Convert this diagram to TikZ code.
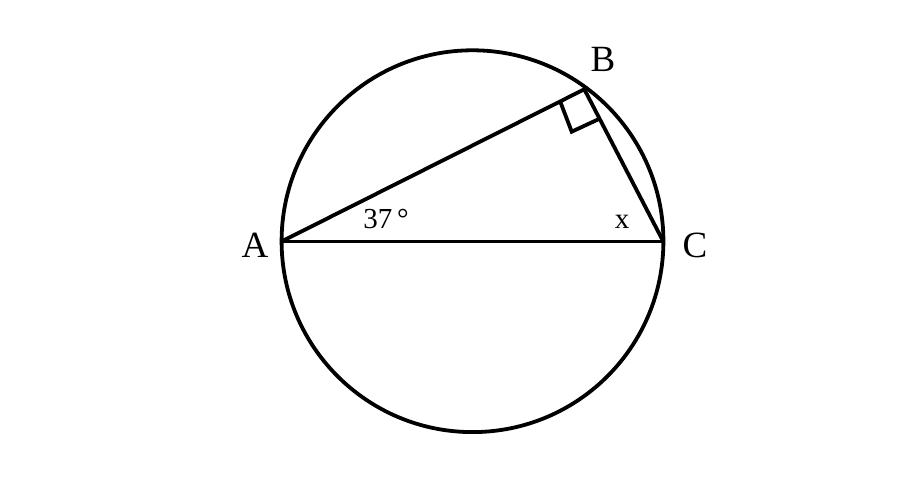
\documentclass[tikz,border=0pt]{standalone}
\usepackage{fontspec}
\setmainfont{Liberation Serif}
\begin{document}
\begin{tikzpicture}[x=1pt,y=-1pt,
  geo/.style={line width=3.8pt, line join=miter},
  big/.style={font=\fontsize{37}{40}\selectfont, anchor=base, inner sep=0pt},
  small/.style={font=\fontsize{29}{32}\selectfont, anchor=base, inner sep=0pt}]
\useasboundingbox (0,0) rectangle (917,502);
\coordinate (O) at (472.5,241.2);
\coordinate (A) at (281.5,241.5);
\coordinate (C) at (663.3,241.5);
\coordinate (B) at (584.3,89.3);
\coordinate (P) at (560,101);
\coordinate (Q) at (571.7,131.7);
\coordinate (R) at (598.3,119.3);
\draw[geo] (O) circle[radius=190.9];
\draw[geo] (A) -- (C);
\draw[geo] (A) -- (B) -- (C);
\draw[geo] (P) -- (Q) -- (R);
\node[big] (lA) at (255,257.5) {A};
\node[big] (lB) at (603,71.7) {B};
\node[big] (lC) at (695,257.5) {C};
\node[small] (l37) at (386,228.3) {37\,°};
\node[small] (lx) at (622,228.3) {x};
\end{tikzpicture}
\end{document}
